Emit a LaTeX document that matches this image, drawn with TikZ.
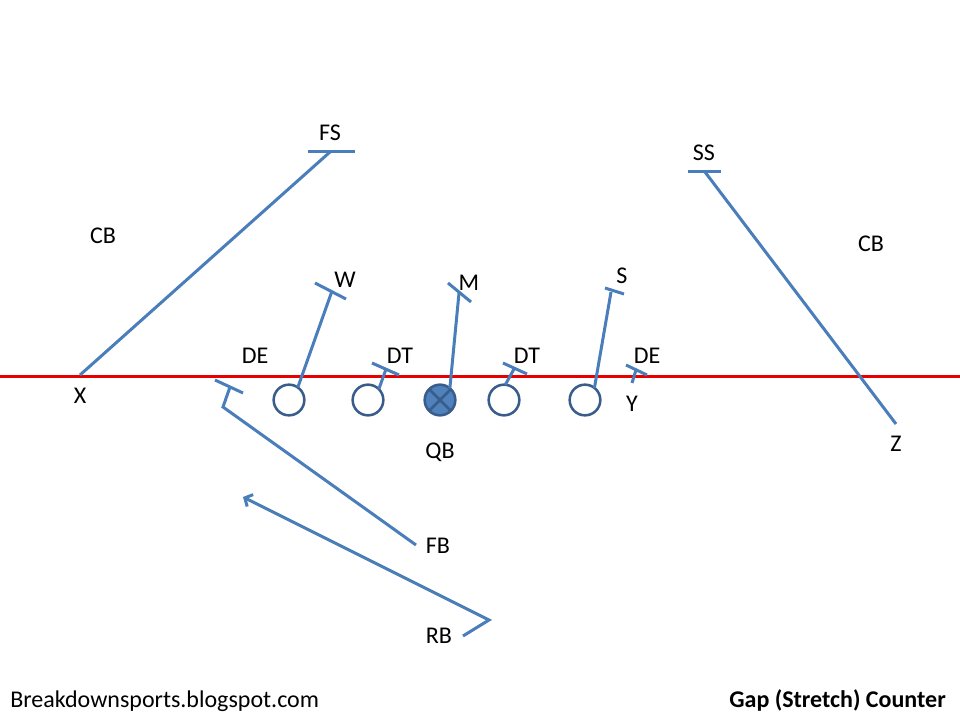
\documentclass[tikz,border=0pt]{standalone}
\usepackage{fontspec}
\setmainfont{Carlito}
\usetikzlibrary{arrows.meta}
\definecolor{routeblue}{RGB}{74,126,187}
\definecolor{olblue}{RGB}{56,93,138}
\definecolor{ctrfill}{RGB}{79,129,189}
\definecolor{losred}{RGB}{232,0,0}
\begin{document}
\begin{tikzpicture}[x=0.75pt, y=-0.75pt,
        lbl/.style={font=\fontsize{18}{20}\selectfont, inner sep=0pt},
        ol/.style={circle, draw=olblue, line width=1.9pt, minimum size=23pt, inner sep=0pt, outer sep=0pt},
        rte/.style={routeblue, line width=2.25pt},
        foot/.style={font=\fontsize{18}{20}\selectfont, inner sep=0pt}]
        \useasboundingbox (0,0) rectangle (960,720);

        % line of scrimmage
        \draw[losred, line width=2.25pt] (0,376) -- (960,376);

        % offensive line
        \node[ol] (lt) at (289,400) {};
        \node[ol] (lg) at (368,400) {};
        \node[ol, fill=ctrfill] (c) at (440,400) {};
        \draw[olblue, line width=1.9pt] (c.45) -- (c.225) (c.135) -- (c.-45);
        \node[ol] (rg) at (504,400) {};
        \node[ol] (rt) at (585,400) {};

        % offense labels
        \node[lbl] (xl) at (80,396) {X};
        \node[lbl] (qb) at (440,452) {QB};
        \node[lbl] (yl) at (632,404) {Y};
        \node[lbl] (zl) at (896,444) {Z};
        \node[lbl] (fb) at (438,546) {FB};
        \node[lbl] (rb) at (439,636) {RB};

        % defense labels
        \node[lbl] (cbl) at (103,236) {CB};
        \node[lbl] (cbr) at (871,244) {CB};
        \node[lbl] (fs) at (330,133) {FS};
        \node[lbl] (ss) at (704,153) {SS};
        \node[lbl] (w) at (345,280) {W};
        \node[lbl] (m) at (469,283) {M};
        \node[lbl] (s) at (622,276) {S};
        \node[lbl] (del) at (255,356) {DE};
        \node[lbl] (dtl) at (400,356) {DT};
        \node[lbl] (dtr) at (527,356) {DT};
        \node[lbl] (der) at (647,356) {DE};

        % route points
        \coordinate (xs) at (80,375);
        \coordinate (fsb) at (330,152);
        \coordinate (ssb) at (705,172);
        \coordinate (zs) at (896,424);
        \coordinate (wb) at (332,291);
        \coordinate (mb) at (459,293);
        \coordinate (sb) at (611,292);
        \coordinate (dtlb) at (386,369);
        \coordinate (dtrb) at (514,369);
        \coordinate (derb) at (636,370);
        \coordinate (ys) at (632,383);
        \coordinate (delb) at (230,387);
        \coordinate (fbc) at (223,407);
        \coordinate (fbs) at (416,545);
        \coordinate (rbs) at (463,636);
        \coordinate (rbc) at (489,620);
        \coordinate (rbe) at (243,497);

        % deep blocks
        \draw[rte] (xs) -- (fsb);
        \draw[rte] (fsb) ++(-22,0) -- ++(47,0);
        \draw[rte] (zs) -- (ssb);
        \draw[rte] (ssb) ++(-17,0) -- ++(33,0);

        % second level
        \draw[rte] (lt.55) -- (wb);
        \draw[rte] (wb) ++(-17,-8) -- ++(31,16);
        \draw[rte] (c.50) -- (mb);
        \draw[rte] (mb) ++(-11,-10) -- ++(23,19);
        \draw[rte] (rt.52) -- (sb);
        \draw[rte] (sb) ++(-6,-4) -- ++(19,6);

        % down linemen
        \draw[rte] (lg.45) -- (dtlb);
        \draw[rte] (dtlb) ++(-14,-6) -- ++(27,12);
        \draw[rte] (rg.85) -- (dtrb);
        \draw[rte] (dtrb) ++(-11,-6) -- ++(24,11);
        \draw[rte] (ys) -- (derb);
        \draw[rte] (derb) ++(-10,-5) -- ++(21,10);

        % kick out and ball carrier
        \draw[rte] (fbs) -- (fbc) -- (delb);
        \draw[rte] (delb) ++(-15,-7) -- ++(28,13);
        \draw[rte, -{Straight Barb[length=4.5pt, width=10pt]}] (rbs) -- (rbc) -- (rbe);

        \node[foot, anchor=base west] (blog) at (10,707) {Breakdownsports.blogspot.com};
        \node[foot, anchor=base east, font=\bfseries\fontsize{18}{20}\selectfont] (play) at (946,707) {Gap (Stretch) Counter};
\end{tikzpicture}
\end{document}
